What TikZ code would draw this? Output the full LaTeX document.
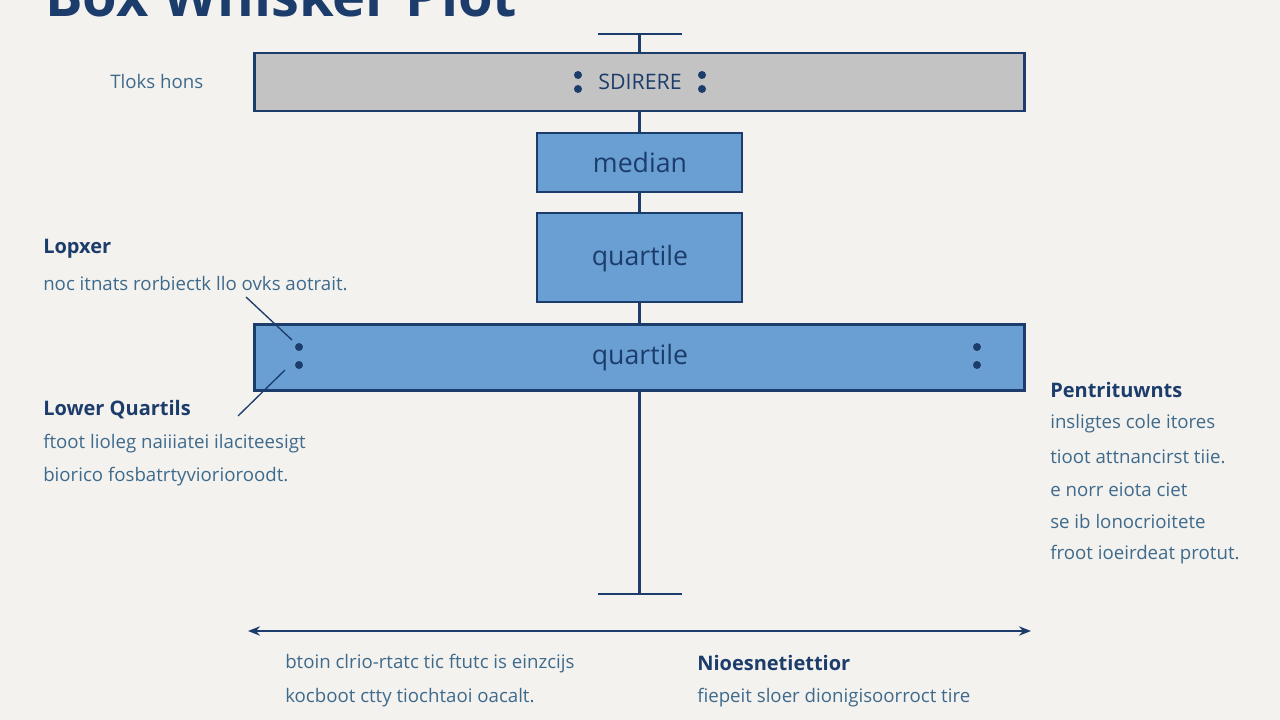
\documentclass[tikz,border=0pt]{standalone}
\usepackage{fontspec}
\setmainfont{Open Sans}
\usetikzlibrary{arrows.meta}
\definecolor{bg}{HTML}{F4F2EE}
\definecolor{navy}{HTML}{1C3D6B}
\definecolor{boxblue}{HTML}{6A9FD4}
\definecolor{boxgray}{HTML}{C3C3C3}
\definecolor{txt}{HTML}{3E6A8C}
\tikzset{
  x=0.75pt,y=-0.75pt,
  plotbox/.style={draw=navy,line width=2.2pt},
  wline/.style={draw=navy,line width=2pt},
  lbl/.style={anchor=west,text=txt,font=\fontsize{14}{16}\selectfont,inner sep=0pt},
  head/.style={anchor=west,text=navy,font=\fontsize{15}{17}\selectfont\bfseries,inner sep=0pt},
  boxtxt/.style={text=navy,font=\fontsize{20}{22}\selectfont,inner sep=0pt},
  dot/.style={circle,fill=navy,inner sep=0pt,minimum size=6pt},
  leader/.style={draw=navy,line width=1pt}
}
\begin{document}
\begin{tikzpicture}
\fill[bg] (0,0) rectangle (1280,720);
\useasboundingbox (0,0) rectangle (1280,720);
\node[anchor=base west,text=navy,font=\fontsize{42}{46}\selectfont\bfseries,inner sep=0pt] (title) at (45,17) {Box Whisker Plot};
% whisker top
\coordinate (tcl) at (598,34); \coordinate (tcr) at (682,34); \coordinate (tc) at (639.5,34);
\draw[wline] (tcl) -- (tcr);
\node[plotbox,fill=boxgray,minimum width=578pt,minimum height=43.5pt,inner sep=0pt] (top) at (639.5,82) {};
\node[boxtxt,font=\fontsize{16}{18}\selectfont] (toptxt) at (640,82) {SDIRERE};
\node[dot] (d1) at (578,75) {}; \node[dot] (d2) at (578,89) {};
\node[dot] (d3) at (702,75) {}; \node[dot] (d4) at (702,89) {};
\draw[wline] (tc) -- (top.north);
\node[plotbox,fill=boxblue,minimum width=153.75pt,minimum height=44.25pt,inner sep=0pt] (med) at (639.5,162.5) {};
\node[boxtxt] (medt) at (640,163) {median};
\node[plotbox,fill=boxblue,minimum width=153.75pt,minimum height=66.75pt,inner sep=0pt] (q3) at (639.5,257.5) {};
\node[boxtxt] (q3t) at (640,259) {quartile};
\node[plotbox,fill=boxblue,minimum width=578pt,minimum height=50pt,inner sep=0pt] (wide) at (639.5,357.5) {};
\node[boxtxt] (widet) at (640,358) {quartile};
\node[dot] (e1) at (299,347) {}; \node[dot] (e2) at (299,365) {};
\node[dot] (e3) at (977,347) {}; \node[dot] (e4) at (977,365) {};
\draw[wline] (top.south) -- (med.north);
\draw[wline] (med.south) -- (q3.north);
\draw[wline] (q3.south) -- (wide.north);
\coordinate (bc) at (639.5,594); \coordinate (bcl) at (598,594); \coordinate (bcr) at (682,594);
\draw[wline] (wide.south) -- (bc);
\draw[wline] (bcl) -- (bcr);
% axis
\coordinate (al) at (248,631); \coordinate (ar) at (1031,631);
\draw[navy,line width=1.6pt,{Stealth[length=9pt,width=7pt]}-{Stealth[length=9pt,width=7pt]}] (al) -- (ar);
% left texts
\node[lbl] (tl) at (110,82) {Tloks hons};
\node[head] (lh1) at (43,249) {Lopxer};
\node[lbl] (l1) at (43,284) {noc itnats rorbiectk llo ovks aotrait.};
\coordinate (ld1a) at (246,297); \coordinate (ld1b) at (292,340);
\draw[leader] (ld1a) -- (ld1b);
\node[head] (lh2) at (43,410) {Lower Quartils};
\coordinate (ld2a) at (238,416); \coordinate (ld2b) at (285,370);
\draw[leader] (ld2a) -- (ld2b);
\node[lbl] (l2) at (43,444) {ftoot lioleg naiiiatei ilaciteesigt};
\node[lbl] (l3) at (43,477) {biorico fosbatrtyviorioroodt.};
% right texts
\node[head] (rh) at (1050,390) {Pentrituwnts};
\node[lbl] (r1) at (1050,424) {insligtes cole itores};
\node[lbl] (r2) at (1050,457) {tioot attnancirst tiie.};
\node[lbl] (r3) at (1050,490) {e norr eiota ciet};
\node[lbl] (r4) at (1050,521) {se ib lonocrioitete};
\node[lbl] (r5) at (1050,555) {froot ioeirdeat protut.};
% bottom texts
\node[lbl] (b1) at (285,664) {btoin clrio-rtatc tic ftutc is  einzcijs};
\node[lbl] (b2) at (285,698) {kocboot ctty tiochtaoi oacalt.};
\node[head] (bh) at (697,663) {Nioesnetiettior};
\node[lbl] (b3) at (697,698) {fiepeit sloer dionigisoorroct tire};
\end{tikzpicture}
\end{document}
